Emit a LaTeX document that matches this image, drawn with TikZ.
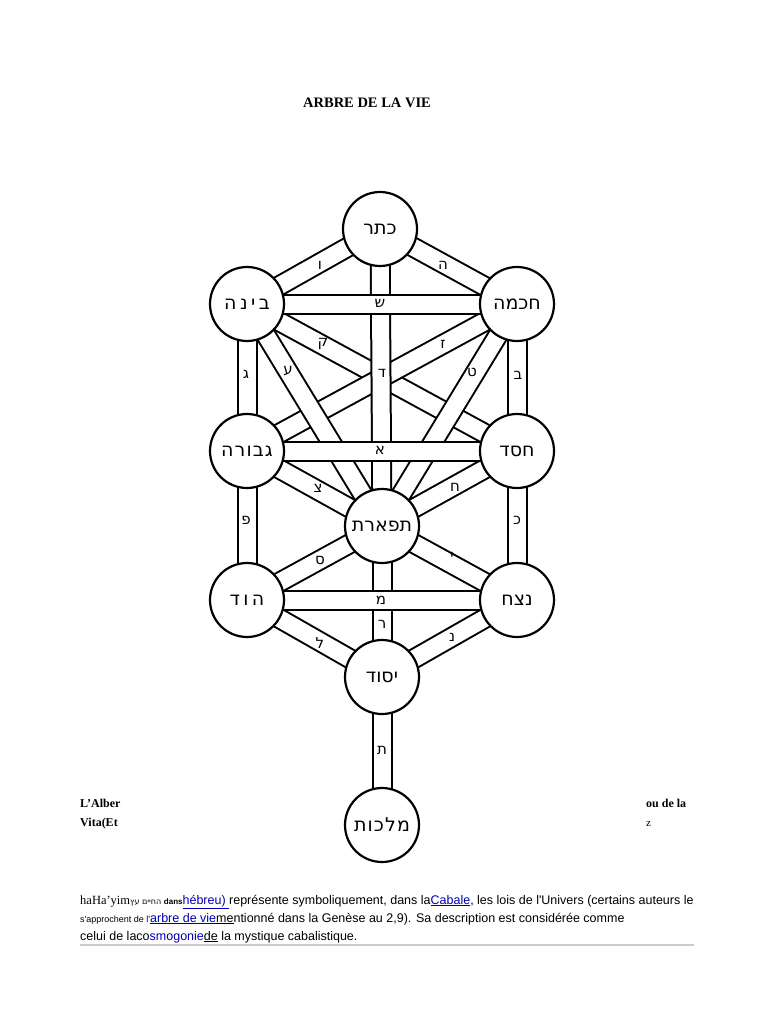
\documentclass[tikz,border=0pt]{standalone}
\usepackage{fontspec}
\setmainfont{Liberation Serif}
\newfontfamily\heb{DejaVu Sans}
\newfontfamily\hebsp[LetterSpace=18]{DejaVu Sans}
\newfontfamily\hebsq[LetterSpace=6]{DejaVu Sans}
\newfontfamily\arial{Liberation Sans}
\begin{document}
\begin{tikzpicture}[x=1pt,y=-1pt,
  band/.style={draw=black,line width=2pt,double=white,double distance=17pt},
  sef/.style={circle,draw=black,line width=2.2pt,fill=white,minimum size=74pt,inner sep=0pt,font=\heb\fontsize{19}{19}\selectfont},
  let/.style={font=\heb\fontsize{15}{15}\selectfont,inner sep=0pt},
  body/.style={anchor=base west,inner sep=0pt,font=\arial\fontsize{12.5}{12.5}\selectfont}]
\useasboundingbox (0,0) rectangle (768,1024);
\fill[white] (0,0) rectangle (768,1024);
\node[font=\bfseries\fontsize{14.5}{14.5}\selectfont] (title) at (367,103) {ARBRE DE LA VIE};
\coordinate (K) at (380,229);
\coordinate (B) at (247,304);
\coordinate (C) at (517,304);
\coordinate (G) at (247,451);
\coordinate (H) at (517,451);
\coordinate (T) at (382,526);
\coordinate (Ho) at (247,600);
\coordinate (N) at (517,600);
\coordinate (Y) at (382,677);
\coordinate (M) at (382,825);
\foreach \a/\b in {K/B,K/C,B/H,C/G,B/T,C/T,G/T,H/T,T/Ho,T/N,Ho/Y,N/Y}
  \draw[band] (\a) -- (\b);
\foreach \a/\b in {K/T,B/G,C/H,G/Ho,H/N,T/Y,Y/M}
  \draw[band] (\a) -- (\b);
\foreach \a/\b in {B/C,G/H,Ho/N}
  \draw[band] (\a) -- (\b);
\node[sef] (keter) at (K) {כתר};
\node[sef,font=\hebsp\fontsize{19}{19}\selectfont] (binah) at (B) {בינה};
\node[sef] (chokhmah) at (C) {חכמה};
\node[sef,font=\hebsq\fontsize{19}{19}\selectfont] (gevurah) at (G) {גבורה};
\node[sef] (chesed) at (H) {חסד};
\node[sef] (tiferet) at (T) {תפארת};
\node[sef,font=\hebsp\fontsize{19}{19}\selectfont] (hod) at (Ho) {הוד};
\node[sef] (netzach) at (N) {נצח};
\node[sef] (yesod) at (Y) {יסוד};
\node[sef,font=\hebsq\fontsize{19}{19}\selectfont] (malkhut) at (M) {מלכות};
\node[let] (l1) at (320,265) {ו};
\node[let] (l2) at (443,265) {ה};
\node[let] (l3) at (380,303) {ש};
\node[let] (l4) at (323,344) {ק};
\node[let] (l5) at (443,344) {ז};
\node[let] (l6) at (382,373) {ד};
\node[let] (l7) at (246,374) {ג};
\node[let] (l8) at (288,371) {ע};
\node[let] (l9) at (472,372) {ט};
\node[let] (l10) at (518,375) {ב};
\node[let] (l11) at (380,450) {א};
\node[let] (l12) at (318,488) {צ};
\node[let] (l13) at (455,487) {ח};
\node[let] (l14) at (246,520) {פ};
\node[let] (l15) at (517,520) {כ};
\node[let] (l16) at (320,560) {ס};
\node[let] (l17) at (452,556) {י};
\node[let] (l18) at (381,600) {מ};
\node[let] (l19) at (382,624) {ר};
\node[let] (l20) at (320,643) {ל};
\node[let] (l21) at (452,637) {נ};
\node[let] (l22) at (382,750) {ת};
\node[anchor=base west,inner sep=0pt,font=\bfseries\fontsize{12}{12}\selectfont] (f1) at (80,807) {L'Alber};
\node[anchor=base west,inner sep=0pt,font=\bfseries\fontsize{12}{12}\selectfont] (f2) at (80,826) {Vita(Et};
\node[anchor=base west,inner sep=0pt,font=\bfseries\fontsize{12}{12}\selectfont] (f3) at (646,807) {ou de la};
\node[anchor=base west,inner sep=0pt,font=\fontsize{11}{11}\selectfont] (f4) at (646,826) {z};
\node[body] (t1) at (80,904) {{\rmfamily haHa'yim}{\heb\fontsize{8}{8}\selectfont עץ החיים }{\fontsize{8}{8}\selectfont\bfseries dans}{\color{blue!70!black}\underline{hébreu) }}représente symboliquement, dans la{\color{blue!70!black}\underline{Cabale}}, les lois de l'Univers (certains auteurs le};
\node[body] (t2) at (80,922) {{\fontsize{9}{9}\selectfont s'approchent de l'}{\color{blue!70!black}\underline{arbre de vie}}\underline{me}ntionné dans la Genèse au 2,9). Sa description est considérée comme};
\node[body] (t3) at (80,940) {celui de laco{\color{blue!70!black}\underline{smogonie}}\underline{de} la mystique cabalistique.};
\draw[gray!40,line width=1.5pt] (80,945) -- (694,945);
\end{tikzpicture}
\end{document}
